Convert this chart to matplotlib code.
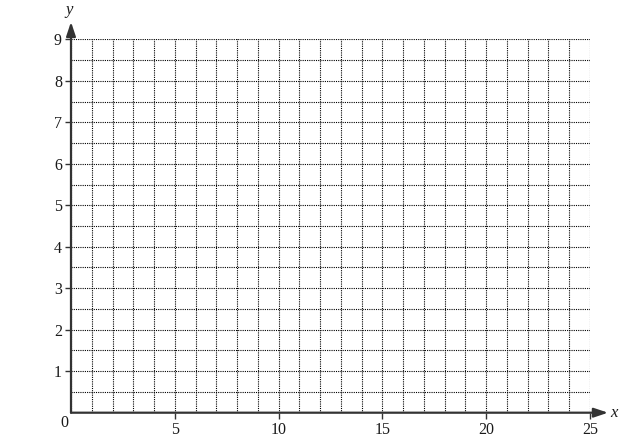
import matplotlib.pyplot as plt
from matplotlib.ticker import MultipleLocator

plt.rcParams['font.family'] = ['Liberation Serif', 'DejaVu Serif']

# axis ranges and tick labels
x_max = 25
y_max = 9
x_ticks = [5, 10, 15, 20, 25]
y_ticks = [1, 2, 3, 4, 5, 6, 7, 8, 9]
x_step = 1
y_step = 0.5

fig = plt.figure(figsize=(6.43, 4.47), dpi=100)
ax = fig.add_axes([71 / 643, 34.3 / 447, 519 / 643, 373.4 / 447])
ax.set_xlim(0, x_max)
ax.set_ylim(0, y_max)

ax.set_xticks(x_ticks)
ax.set_yticks(y_ticks)
ax.xaxis.set_minor_locator(MultipleLocator(x_step))
ax.yaxis.set_minor_locator(MultipleLocator(y_step))
ax.tick_params(which='minor', length=0)
ax.tick_params(which='major', direction='out', length=4.5, width=1.0,
               color='#333333', labelsize=11.5, labelcolor='#1a1a1a')
ax.tick_params(axis='x', pad=2)
ax.tick_params(axis='y', pad=2)

ax.grid(which='both', linestyle=(0, (1, 1)), color='black', linewidth=0.8)
ax.set_axisbelow(True)

for s in ax.spines.values():
    s.set_visible(False)

# axes with arrows
arrow = dict(arrowstyle='-|>,head_length=0.6,head_width=0.2', color='#333333',
             lw=1.6, mutation_scale=14, shrinkA=0, shrinkB=0)
ax.annotate('', xy=(x_max + 0.87, 0), xytext=(0, 0),
            arrowprops=arrow, annotation_clip=False)
ax.annotate('', xy=(0, y_max + 0.42), xytext=(0, 0),
            arrowprops=arrow, annotation_clip=False)

ax.text(x_max + 0.95, 0, 'x', style='italic', fontsize=12,
        ha='left', va='center', color='#1a1a1a')
ax.text(-0.1, y_max + 0.7, 'y', style='italic', fontsize=12,
        ha='center', va='center', color='#1a1a1a')
ax.text(-0.3, -0.24, '0', fontsize=11.5, ha='center', va='center',
        color='#1a1a1a')

plt.savefig('out.png', dpi=100)
